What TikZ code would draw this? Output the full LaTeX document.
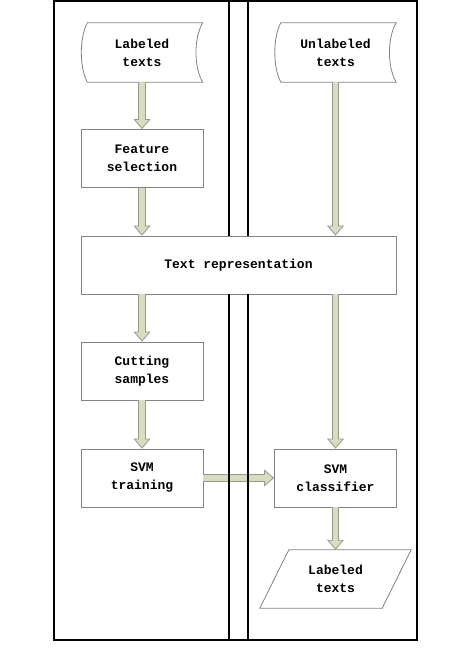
\documentclass[tikz,border=0pt]{standalone}
\usepackage{fontspec}
\newfontfamily\flowfont{Liberation Mono}
\usetikzlibrary{arrows.meta,calc}
\definecolor{shaftfill}{RGB}{216,221,192}
\definecolor{shaftline}{RGB}{150,152,140}
\definecolor{boxline}{RGB}{130,130,130}
\begin{document}
\begin{tikzpicture}[x=1pt,y=-1pt,
  txt/.style={font=\flowfont\bfseries\fontsize{13}{18}\selectfont, align=center, inner sep=0pt},
  procbox/.style={txt, draw=boxline, fill=white, line width=0.8pt, minimum width=122pt, minimum height=58pt},
  ghost/.style={txt, minimum width=121pt, minimum height=59pt},
  outline/.style={draw=boxline, line width=0.8pt},
  frame/.style={draw=black, line width=1.6pt},
  fatarrow/.style={draw=shaftline, line width=7.5pt,
    -{Triangle[width=17pt,length=10pt,line width=0.8pt,fill=shaftfill]},
    postaction={draw=shaftfill, line width=5.9pt, shorten >=9pt, -}}
]
\useasboundingbox (0,0) rectangle (474,652);
% frame
\draw[frame] (54,1) rectangle (417,640);
\coordinate (topA) at (229,1);
\coordinate (topB) at (248,1);
\coordinate (botA) at (229,640);
\coordinate (botB) at (248,640);
\draw[frame] (topA) -- (botA);
\draw[frame] (topB) -- (botB);

% nodes
\node[ghost] (lab) at (142,52.5) {Labeled\\texts};
\node[ghost] (unlab) at (335.5,52.5) {Unlabeled\\texts};
\node[procbox] (feat) at (142,158.5) {Feature\\selection};
\node[procbox, minimum width=315pt] (rep) at (238.5,265) {Text representation};
\node[procbox] (cut) at (142,371) {Cutting\\samples};
\node[procbox] (train) at (142,478) {SVM\\training};
\node[procbox] (clf) at (335.5,478) {SVM\\classifier};
\node[txt, minimum width=151pt, minimum height=58pt] (para) at (335.5,579) {Labeled\\texts};

% tape shapes
\foreach \n in {lab,unlab}{
  \draw[outline] ([xshift=6pt]\n.north west) -- (\n.north east)
    .. controls +(-9,15) and +(-9,-15) .. (\n.south east)
    -- ([xshift=6pt]\n.south west)
    .. controls +(-8,-15) and +(-8,15) .. ([xshift=6pt]\n.north west) -- cycle;
}
% parallelogram
\draw[outline] ([xshift=29pt]para.north west) -- (para.north east)
  -- ([xshift=-29pt]para.south east) -- (para.south west) -- cycle;

% arrows
\draw[fatarrow] (lab.south) -- (feat.north);
\draw[fatarrow] (feat.south) -- (feat.south |- rep.north);
\draw[fatarrow] (cut.north |- rep.south) -- (cut.north);
\draw[fatarrow] (cut.south) -- (train.north);
\draw[fatarrow] (unlab.south) -- (unlab.south |- rep.north);
\draw[fatarrow] (clf.north |- rep.south) -- (clf.north);
\draw[fatarrow] (clf.south) -- (para.north);
\draw[fatarrow] (train.east) -- (clf.west);

% divider lines drawn over the horizontal arrow
\draw[frame] (topA |- rep.south) -- (botA);
\draw[frame] (topB |- rep.south) -- (botB);
\end{tikzpicture}
\end{document}
